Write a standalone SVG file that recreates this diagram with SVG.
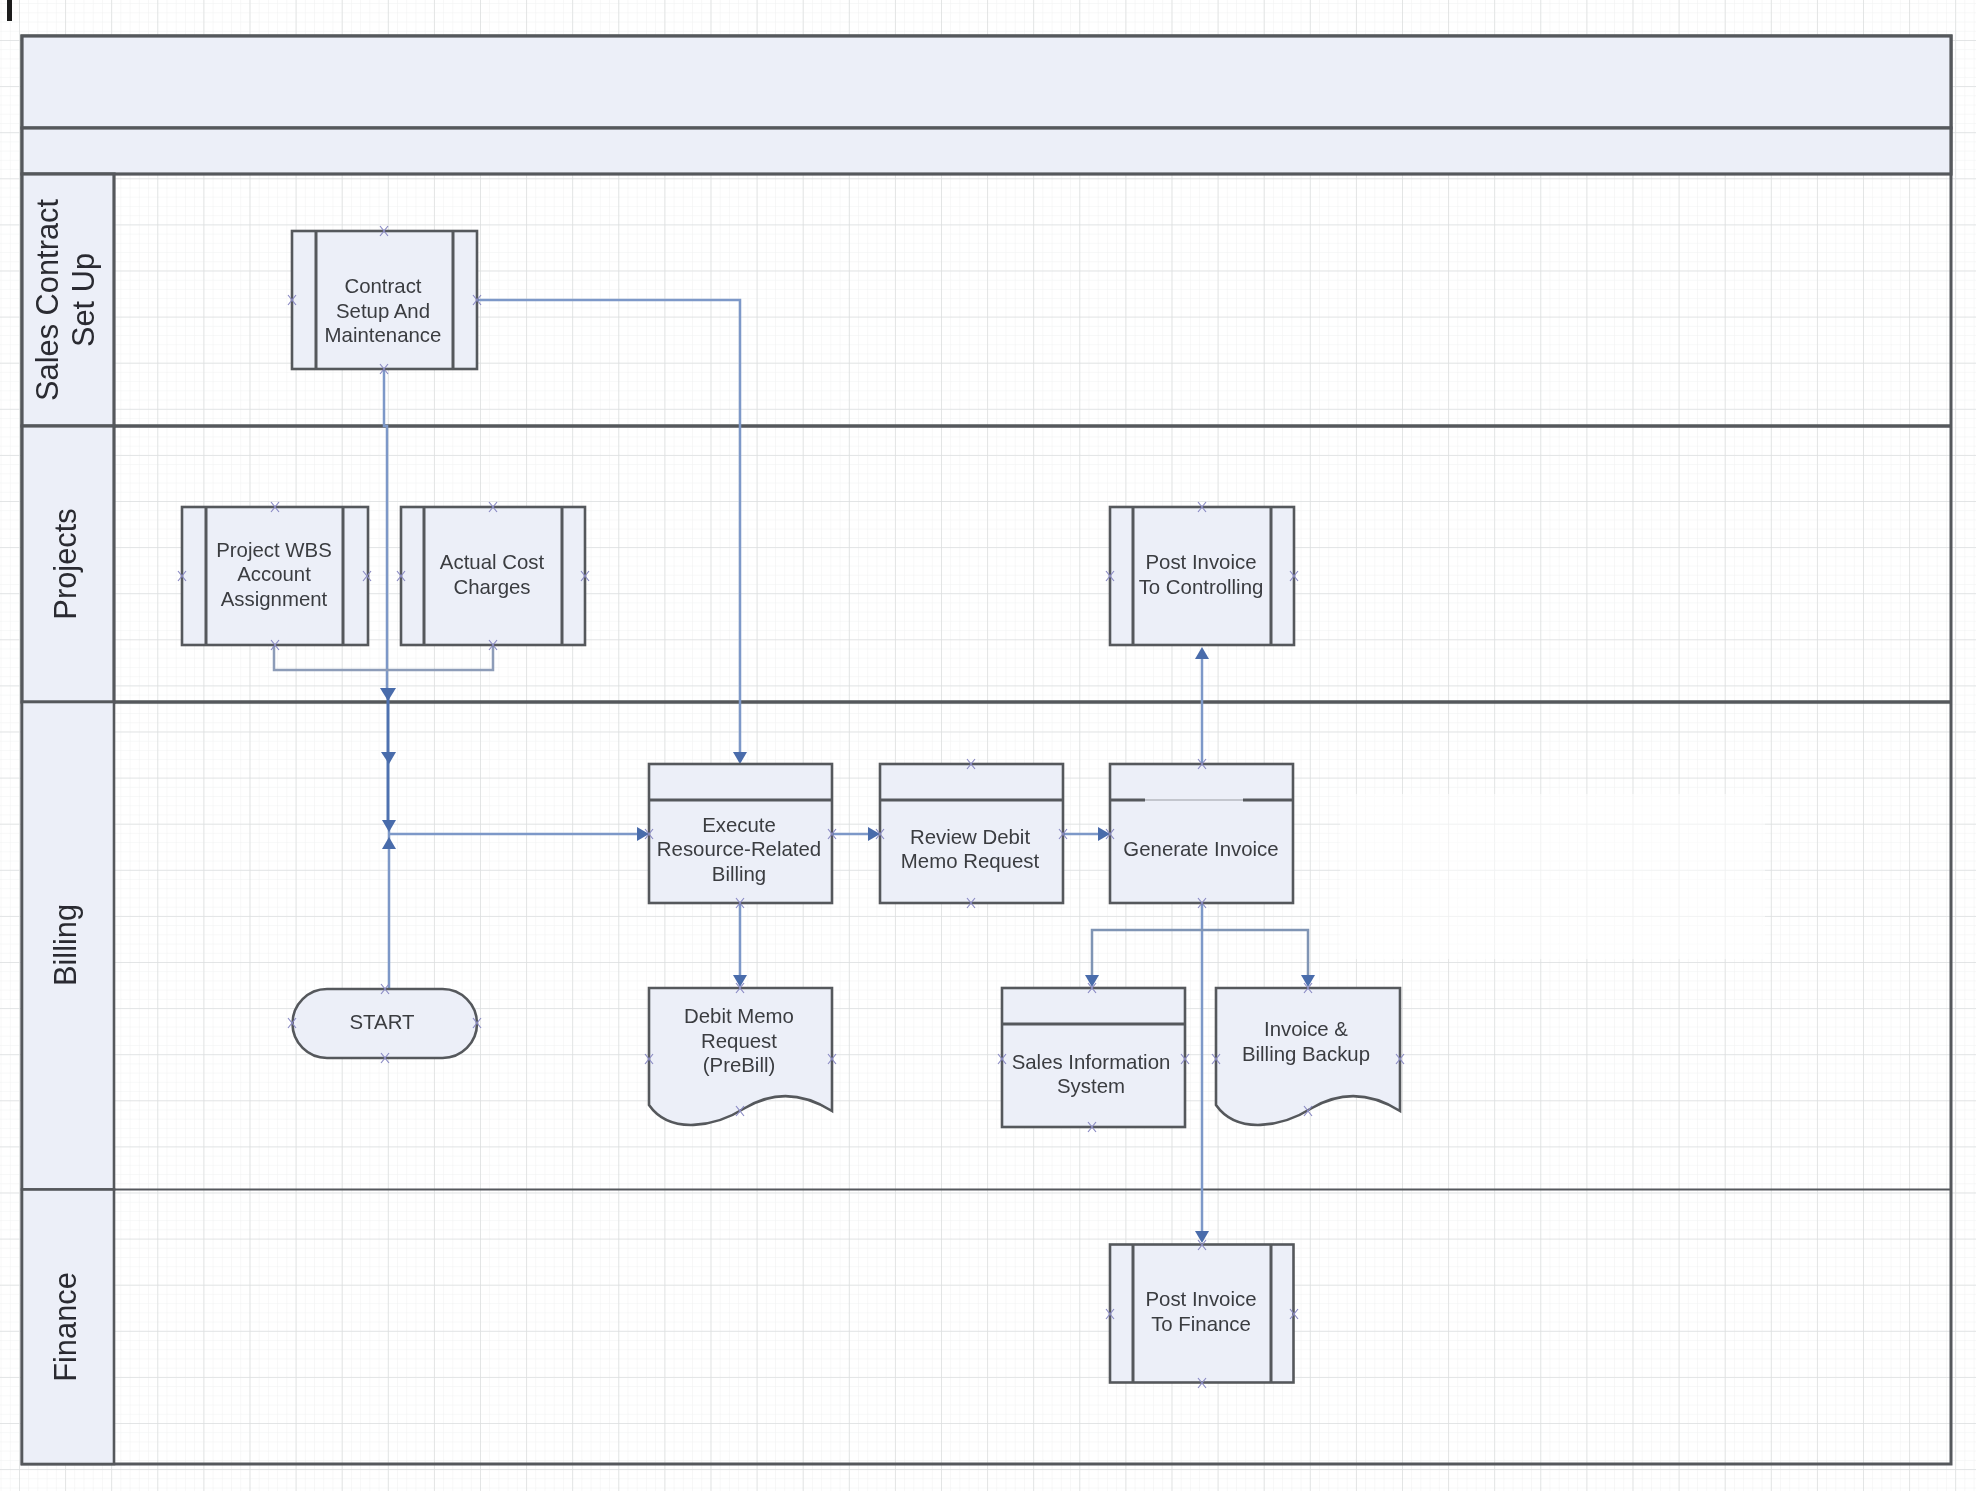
<svg xmlns="http://www.w3.org/2000/svg" width="1976" height="1491" viewBox="0 0 1976 1491">
<style>
.n{fill:#eceff8;stroke:#55585c;stroke-width:2.600}
.l{fill:none;stroke:#55585c;stroke-width:3}
.t{font-family:"Liberation Sans",Arial,sans-serif;font-size:20.400px;fill:#3a3c41;text-anchor:middle}
.h{font-family:"Liberation Sans",Arial,sans-serif;font-size:30.800px;fill:#2a2c30;text-anchor:middle}
.c{fill:none;stroke:#7d98c8;stroke-width:2.500}
.d{fill:none;stroke:#4f72b0;stroke-width:3}
.a{fill:#4a6cab}
.p{fill:none;stroke:#8b8bc4;stroke-width:1.200}
</style>
<defs>
<filter id="soft" x="0" y="0" width="100%" height="100%"><feGaussianBlur stdDeviation="0.700"/></filter>
<pattern id="minor" x="19" y="40" width="9.220" height="9.220" patternUnits="userSpaceOnUse"><path d="M0 0V9.220M0 0H9.220" fill="none" stroke="#f0f1f1" stroke-width="1"/></pattern>
<pattern id="major" x="19" y="40" width="46.100" height="46.100" patternUnits="userSpaceOnUse"><path d="M0 0V46.100M0 0H46.100" fill="none" stroke="#dcdedf" stroke-width="1.500"/></pattern>
<path id="x" d="M-4-5L4 5M-4 5L4-5" class="p"/>
</defs>
<rect width="1976" height="1491" fill="#fff"/>
<g filter="url(#soft)">
<rect width="1976" height="1491" fill="url(#minor)"/>
<rect width="1976" height="1491" fill="url(#major)"/>
<rect x="1340" y="794" width="425" height="165" fill="#fff" fill-opacity=".55"/>
<rect x="7" y="0" width="5" height="21" fill="#1a1a1a"/>
<g id="lanes">
<rect class="l" x="22" y="36" width="1929" height="1428"/>
<rect class="n" x="22" y="36" width="1929" height="92" style="stroke-width:3.200"/>
<rect class="n" x="22" y="128" width="1929" height="46" style="stroke-width:3.200"/>
<rect class="n" x="22" y="174" width="92" height="252" style="stroke-width:3.200"/>
<rect class="n" x="22" y="426" width="92" height="276" style="stroke-width:3.200"/>
<rect class="n" x="22" y="702" width="92" height="487.500"/>
<rect class="n" x="22" y="1189.500" width="92" height="274.500"/>
<path class="l" style="stroke-width:3.500" d="M114 426H1951M114 702H1951"/>
<path class="l" style="stroke-width:2.200" d="M114 1189.500H1951"/>
<text class="h" transform="translate(58 300) rotate(-90)">Sales Contract</text>
<text class="h" transform="translate(94 300) rotate(-90)">Set Up</text>
<text class="h" transform="translate(76 564) rotate(-90)">Projects</text>
<text class="h" transform="translate(76 945) rotate(-90)">Billing</text>
<text class="h" transform="translate(76 1327) rotate(-90)">Finance</text>
</g>
<g id="connectors">
<path class="c" d="M384 369V426H387V695"/>
<path class="d" d="M388 695V825"/>
<path class="c" d="M389 825V989"/>
<path class="c" style="stroke:#8d9cb8" d="M274 645V670H493V645"/>
<path class="c" d="M477 300H740V760"/>
<path class="c" d="M389 834H642M832 834H874M1063 834H1104"/>
<path class="c" d="M740 903V982"/>
<path class="c" d="M1202 764V652"/>
<path class="c" d="M1202 903V1239"/>
<path class="c" style="stroke:#7f94b4" d="M1092 982V930H1308V982"/>
<path class="a" d="M380 688H396L388 701Z"/>
<path class="a" d="M381 752H396L389 764Z"/>
<path class="a" d="M382 820H396L389 832Z"/>
<path class="a" d="M382 849H396L389 837Z"/>
<path class="a" d="M637 827V841L649 834Z"/>
<path class="a" d="M868 827V841L880 834Z"/>
<path class="a" d="M1098 827V841L1110 834Z"/>
<path class="a" d="M733 752H747L740 764Z"/>
<path class="a" d="M733 975H747L740 987Z"/>
<path class="a" d="M1085 975H1099L1092 987Z"/>
<path class="a" d="M1301 975H1315L1308 987Z"/>
<path class="a" d="M1195 1231H1209L1202 1243Z"/>
<path class="a" d="M1195 659H1209L1202 647Z"/>
</g>
<g id="contract"><rect class="n" x="292" y="231" width="185" height="138"/><path class="l" d="M316 231V369M453 231V369"/>
<text class="t"><tspan x="383" y="293">Contract</tspan><tspan x="383" y="318">Setup And</tspan><tspan x="383" y="342">Maintenance</tspan></text>
<use href="#x" x="384" y="231"/><use href="#x" x="292" y="300"/><use href="#x" x="477" y="300"/><use href="#x" x="384" y="369"/></g>
<g id="wbs"><rect class="n" x="182" y="507" width="186" height="138"/><path class="l" d="M206 507V645M343 507V645"/>
<text class="t"><tspan x="274" y="557">Project WBS</tspan><tspan x="274" y="581">Account</tspan><tspan x="274" y="606">Assignment</tspan></text>
<use href="#x" x="275" y="507"/><use href="#x" x="182" y="576"/><use href="#x" x="367" y="576"/><use href="#x" x="275" y="645"/></g>
<g id="actual"><rect class="n" x="401" y="507" width="184" height="138"/><path class="l" d="M424 507V645M562 507V645"/>
<text class="t"><tspan x="492" y="569">Actual Cost</tspan><tspan x="492" y="594">Charges</tspan></text>
<use href="#x" x="493" y="507"/><use href="#x" x="401" y="576"/><use href="#x" x="585" y="576"/><use href="#x" x="493" y="645"/></g>
<g id="controlling"><rect class="n" x="1110" y="507" width="184" height="138"/><path class="l" d="M1133 507V645M1271 507V645"/>
<text class="t"><tspan x="1201" y="569">Post Invoice</tspan><tspan x="1201" y="594">To Controlling</tspan></text>
<use href="#x" x="1202" y="507"/><use href="#x" x="1110" y="576"/><use href="#x" x="1294" y="576"/></g>
<g id="execute"><rect class="n" x="649" y="764" width="183" height="139"/><path class="l" d="M649 800H832"/>
<text class="t"><tspan x="739" y="832">Execute</tspan><tspan x="739" y="856">Resource-Related</tspan><tspan x="739" y="881">Billing</tspan></text>
<use href="#x" x="649" y="834"/><use href="#x" x="832" y="834"/><use href="#x" x="740" y="903"/></g>
<g id="review"><rect class="n" x="880" y="764" width="183" height="139"/><path class="l" d="M880 800H1063"/>
<text class="t"><tspan x="970" y="844">Review Debit</tspan><tspan x="970" y="868">Memo Request</tspan></text>
<use href="#x" x="971" y="764"/><use href="#x" x="1063" y="834"/><use href="#x" x="880" y="834"/><use href="#x" x="971" y="903"/></g>
<g id="generate"><rect class="n" x="1110" y="764" width="183" height="139"/><path class="l" d="M1110 800H1145M1243 800H1293"/><path d="M1145 800H1243" fill="none" stroke="#9a9da3" stroke-width="1"/>
<text class="t"><tspan x="1201" y="856">Generate Invoice</tspan></text>
<use href="#x" x="1202" y="764"/><use href="#x" x="1110" y="834"/><use href="#x" x="1202" y="903"/></g>
<g id="start"><rect class="n" x="292.500" y="989" width="184.500" height="69" rx="34.500" ry="34.500"/>
<text class="t"><tspan x="382" y="1029">START</tspan></text>
<use href="#x" x="385" y="989"/><use href="#x" x="292" y="1023"/><use href="#x" x="477" y="1023"/><use href="#x" x="385" y="1058"/></g>
<g id="debit"><path class="n" d="M649 988H832V1111C805 1094 775 1090 745 1108C715 1127 670 1135 649 1105Z"/>
<text class="t"><tspan x="739" y="1023">Debit Memo</tspan><tspan x="739" y="1048">Request</tspan><tspan x="739" y="1072">(PreBill)</tspan></text>
<use href="#x" x="740" y="988"/><use href="#x" x="649" y="1059"/><use href="#x" x="832" y="1059"/><use href="#x" x="740" y="1111"/></g>
<g id="sales"><rect class="n" x="1002" y="988" width="183" height="139"/><path class="l" d="M1002 1024H1185"/>
<text class="t"><tspan x="1091" y="1069">Sales Information</tspan><tspan x="1091" y="1093">System</tspan></text>
<use href="#x" x="1092" y="988"/><use href="#x" x="1002" y="1059"/><use href="#x" x="1185" y="1059"/><use href="#x" x="1092" y="1127"/></g>
<g id="backup"><path class="n" d="M1216 988H1400V1111C1373 1094 1343 1090 1312 1108C1282 1127 1237 1135 1216 1105Z"/>
<text class="t"><tspan x="1306" y="1036">Invoice &amp;</tspan><tspan x="1306" y="1061">Billing Backup</tspan></text>
<use href="#x" x="1308" y="988"/><use href="#x" x="1216" y="1059"/><use href="#x" x="1400" y="1059"/><use href="#x" x="1308" y="1111"/></g>
<g id="finance"><rect class="n" x="1110" y="1244.500" width="183.500" height="138"/><path class="l" d="M1133 1244.500V1382.500M1271 1244.500V1382.500"/>
<text class="t"><tspan x="1201" y="1306">Post Invoice</tspan><tspan x="1201" y="1331">To Finance</tspan></text>
<use href="#x" x="1202" y="1245"/><use href="#x" x="1110" y="1314"/><use href="#x" x="1294" y="1314"/><use href="#x" x="1202" y="1383"/></g>
</g>
</svg>
